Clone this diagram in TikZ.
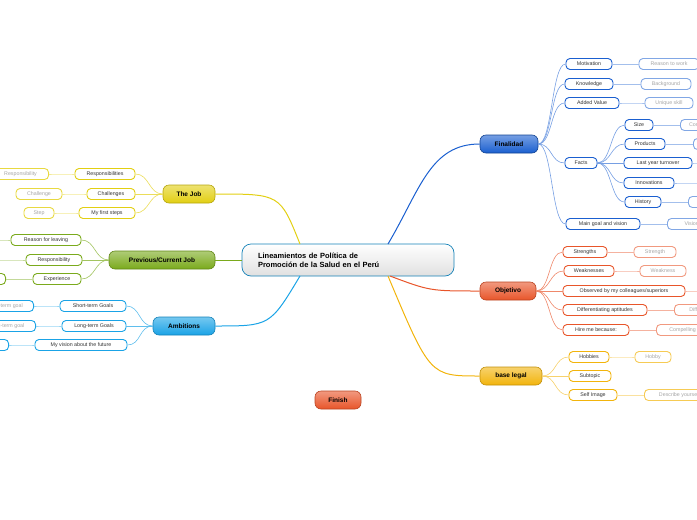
\documentclass[tikz,border=0pt]{standalone}
\usepackage{fontspec}
\setmainfont{Liberation Sans}
\begin{document}
\begin{tikzpicture}[x=1pt,y=-1pt,
 base/.style={draw, rounded corners=4pt, line width=0.9pt, fill=white, minimum height=11pt, inner sep=1.5pt, font=\fontsize{5.3}{6}\selectfont, text=black!80},
 sub/.style={base, text=black!35},
 main/.style={draw, rounded corners=6pt, line width=0.6pt, minimum height=18pt, font=\fontsize{6.5}{8}\selectfont\bfseries, text=black},
 bl/.style={draw=blueA}, rd/.style={draw=redA}, gd/.style={draw=goldA}, yl/.style={draw=yelA}, gr/.style={draw=grnA}, cy/.style={draw=cyA},
 blS/.style={draw=blueA!55}, rdS/.style={draw=redA!60}, gdS/.style={draw=goldA!70}, ylS/.style={draw=yelA!80}, grS/.style={draw=grnA}, cyS/.style={draw=cyA},
]
\definecolor{blueA}{HTML}{1A5FD0}
\definecolor{redA}{HTML}{E8552A}
\definecolor{goldA}{HTML}{F2B40C}
\definecolor{yelA}{HTML}{E2CF12}
\definecolor{grnA}{HTML}{7AAA1C}
\definecolor{cyA}{HTML}{1AA3E6}
\useasboundingbox (0,0) rectangle (697,520);
\clip (0,0) rectangle (697,520);
\newcommand\rlnk[3]{\draw[#1,line width=0.6pt] (#2.east) .. controls +(14,0) and +(-14,0) .. (#3.west);}
\newcommand\llnk[3]{\draw[#1,line width=0.6pt] (#2.west) .. controls +(-14,0) and +(14,0) .. (#3.east);}
% root
\node[draw=cyA!80!black, line width=0.7pt, rounded corners=9pt, top color=white, bottom color=black!12, minimum width=212pt, minimum height=32pt, align=left, text width=180pt, font=\fontsize{7.5}{9}\selectfont\bfseries] (root) at (348,260) {Lineamientos de Política de\\Promoción de la Salud en el Perú};
% main topics
\node[main, draw=blueA!70!black, top color=blueA!60, bottom color=blueA, minimum width=58pt] (fin) at (509,144) {Finalidad};
\node[main, draw=redA!80!black, top color=redA!60, bottom color=redA, minimum width=56pt] (obj) at (508,291) {Objetivo};
\node[main, draw=goldA!80!black, top color=goldA!60, bottom color=goldA, minimum width=62pt] (bas) at (511,376) {base legal};
\node[main, draw=redA!80!black, top color=redA!60, bottom color=redA, minimum width=46pt] (fsh) at (338,400) {Finish};
\node[main, draw=yelA!80!black, top color=yelA!60, bottom color=yelA, minimum width=52pt] (job) at (189,194) {The Job};
\node[main, draw=grnA!80!black, top color=grnA!60, bottom color=grnA, minimum width=106pt] (prev) at (162,260) {Previous/Current Job};
\node[main, draw=cyA!80!black, top color=cyA!60, bottom color=cyA, minimum width=62pt] (amb) at (184,326) {Ambitions};
% root connectors
\draw[blueA, line width=1pt] (388,244) .. controls (420,190) and (430,144) .. (fin.west);
\draw[redA, line width=1pt] (390,276) .. controls (430,291) .. (obj.west);
\draw[goldA, line width=1pt] (388,276) .. controls (430,376) .. (bas.west);
\draw[yelA, line width=1pt] (300,244) .. controls (280,194) .. (job.east);
\draw[grnA, line width=1pt] (root.west) -- (prev.east);
\draw[cyA, line width=1pt] (300,276) .. controls (270,326) .. (amb.east);
% Finalidad
\node[base,bl,minimum width=46pt] (mot) at (589,64) {Motivation};
\node[base,bl,minimum width=48pt] (kno) at (589,84) {Knowledge};
\node[base,bl,minimum width=54pt] (add) at (592,103) {Added Value};
\node[base,bl,minimum width=32pt] (fac) at (581,163) {Facts};
\node[base,bl,minimum width=74pt] (mgv) at (603,224) {Main goal and vision};
\node[sub,blS,minimum width=60pt] (rtw) at (669,64) {Reason to work};
\node[sub,blS,minimum width=50pt] (bgr) at (666,84) {Background};
\node[sub,blS,minimum width=48pt] (usk) at (669,103) {Unique skill};
\node[sub,blS,minimum width=60pt,anchor=west] (vis) at (667,224) {Vision/goal};
\node[base,bl,minimum width=28pt] (siz) at (639,125) {Size};
\node[base,bl,minimum width=40pt] (pro) at (645,144) {Products};
\node[base,bl,minimum width=68pt] (lyt) at (658,163) {Last year turnover};
\node[base,bl,minimum width=50pt] (inn) at (649,183) {Innovations};
\node[base,bl,minimum width=36pt] (his) at (643,202) {History};
\node[sub,blS,minimum width=40pt,anchor=west] (siz2) at (680,125) {Company};
\node[sub,blS,minimum width=40pt,anchor=west] (pro2) at (693,144) {Product};
\node[sub,blS,minimum width=40pt,anchor=west] (lyt2) at (705,163) {Turnover};
\node[sub,blS,minimum width=40pt,anchor=west] (inn2) at (705,183) {Innovation};
\node[sub,blS,minimum width=40pt,anchor=west] (his2) at (688,202) {History};
\foreach \c in {mot,kno,add,fac,mgv} {\rlnk{blueA!60}{fin}{\c}}
\foreach \c in {siz,pro,lyt,inn,his} {\rlnk{blueA!60}{fac}{\c}}
\rlnk{blueA!40}{mot}{rtw}\rlnk{blueA!40}{kno}{bgr}\rlnk{blueA!40}{add}{usk}\rlnk{blueA!40}{mgv}{vis}
\rlnk{blueA!40}{siz}{siz2}\rlnk{blueA!40}{pro}{pro2}\rlnk{blueA!40}{lyt}{lyt2}\rlnk{blueA!40}{inn}{inn2}\rlnk{blueA!40}{his}{his2}
% Objetivo
\node[base,rd,minimum width=44pt] (str) at (585,252) {Strengths};
\node[base,rd,minimum width=50pt] (wea) at (589,271) {Weaknesses};
\node[base,rd,minimum width=122pt] (obs) at (624,291) {Observed by my colleagues/superiors};
\node[base,rd,minimum width=84pt] (dif) at (605,310) {Differentiating aptitudes};
\node[base,rd,minimum width=66pt] (hir) at (596,330) {Hire me because:};
\node[sub,rdS,minimum width=42pt] (str2) at (655,252) {Strength};
\node[sub,rdS,minimum width=46pt] (wea2) at (663,271) {Weakness};
\node[sub,rdS,minimum width=60pt,anchor=west] (obs2) at (705,291) {Observation};
\node[sub,rdS,minimum width=60pt,anchor=west] (dif2) at (674,310) {Differentiator};
\node[sub,rdS,minimum width=70pt,anchor=west] (hir2) at (656,330) {Compelling reason};
\foreach \c in {str,wea,obs,dif,hir} {\rlnk{redA!70}{obj}{\c}}
\rlnk{redA!45}{str}{str2}\rlnk{redA!45}{wea}{wea2}\rlnk{redA!45}{obs}{obs2}\rlnk{redA!45}{dif}{dif2}\rlnk{redA!45}{hir}{hir2}
% base legal
\node[base,gd,minimum width=40pt] (hob) at (589,357) {Hobbies};
\node[base,gd,minimum width=42pt] (stp) at (590,376) {Subtopic};
\node[base,gd,minimum width=48pt] (sim) at (593,395) {Self Image};
\node[sub,gdS,minimum width=36pt] (hob2) at (653,357) {Hobby};
\node[sub,gdS,minimum width=70pt,anchor=west] (sim2) at (644,395) {Describe yourself};
\foreach \c in {hob,stp,sim} {\rlnk{goldA!60}{bas}{\c}}
\rlnk{goldA!40}{hob}{hob2}\rlnk{goldA!40}{sim}{sim2}
% The Job
\node[base,yl,minimum width=60pt] (res) at (105,174) {Responsibilities};
\node[base,yl,minimum width=48pt] (cha) at (111,194) {Challenges};
\node[base,yl,minimum width=56pt] (mfs) at (107,213) {My first steps};
\node[sub,ylS,minimum width=56pt,anchor=east] (res2) at (49,174) {Responsibility};
\node[sub,ylS,minimum width=46pt] (cha2) at (39,194) {Challenge};
\node[sub,ylS,minimum width=30pt] (mfs2) at (39,213) {Step};
\foreach \c in {res,cha,mfs} {\llnk{yelA!70}{job}{\c}}
\llnk{yelA!45}{res}{res2}\llnk{yelA!45}{cha}{cha2}\llnk{yelA!45}{mfs}{mfs2}
% Previous
\node[base,gr,minimum width=70pt] (rfl) at (46,240) {Reason for leaving};
\node[base,gr,minimum width=56pt] (rsp) at (54,260) {Responsibility};
\node[base,gr,minimum width=48pt] (exp) at (57,279) {Experience};
\node[sub,grS,minimum width=50pt,anchor=east] (rfl2) at (-20,240) {Reason};
\node[sub,grS,minimum width=50pt,anchor=east] (rsp2) at (-20,260) {Responsibility};
\node[sub,grS,minimum width=50pt,anchor=east] (exp2) at (6,279) {Experience};
\foreach \c in {rfl,rsp,exp} {\llnk{grnA!70}{prev}{\c}}
\llnk{grnA!45}{rfl}{rfl2}\llnk{grnA!45}{rsp}{rsp2}\llnk{grnA!45}{exp}{exp2}
% Ambitions
\node[base,cy,minimum width=66pt] (stg) at (93,306) {Short-term Goals};
\node[base,cy,minimum width=64pt] (ltg) at (94,326) {Long-term Goals};
\node[base,cy,minimum width=92pt] (myv) at (81,345) {My vision about the future};
\node[sub,cyS,minimum width=58pt,anchor=east] (stg2) at (34,306) {Short-term goal};
\node[sub,cyS,minimum width=58pt,anchor=east] (ltg2) at (36,326) {Long-term goal};
\node[sub,cyS,minimum width=50pt,anchor=east] (myv2) at (9,345) {Vision};
\foreach \c in {stg,ltg,myv} {\llnk{cyA!70}{amb}{\c}}
\llnk{cyA!45}{stg}{stg2}\llnk{cyA!45}{ltg}{ltg2}\llnk{cyA!45}{myv}{myv2}
\end{tikzpicture}
\end{document}
